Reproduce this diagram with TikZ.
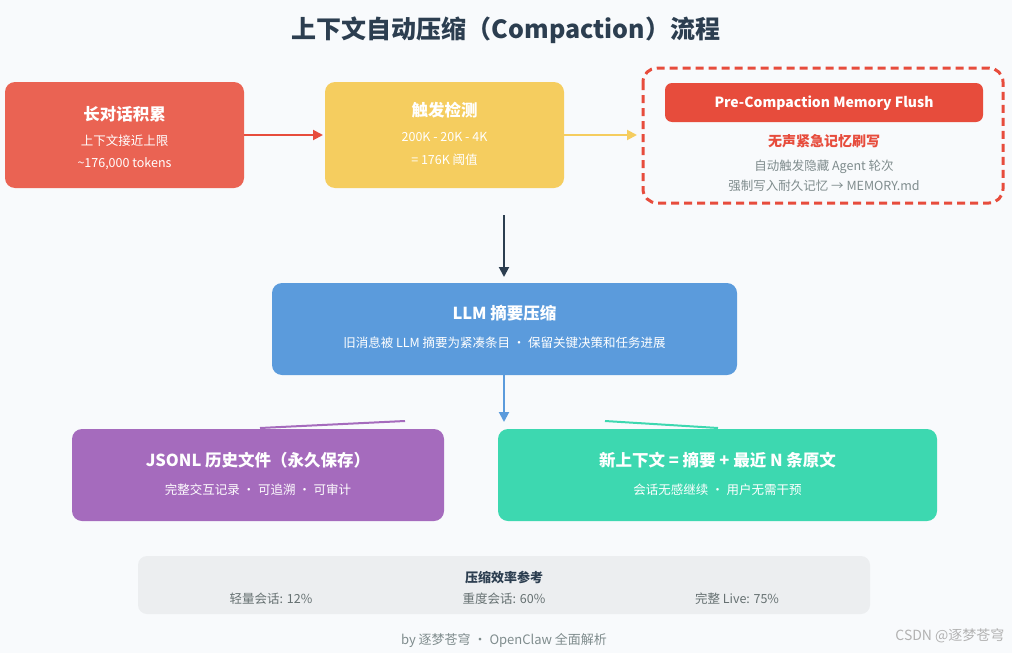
\documentclass[tikz,border=0pt]{standalone}
\usepackage{fontspec}
\setmainfont{Noto Sans CJK SC}
\usetikzlibrary{arrows.meta}
\definecolor{bg}{HTML}{F8FAFC}
\definecolor{cA}{HTML}{EA6353}
\definecolor{cB}{HTML}{F5CD5F}
\definecolor{cR}{HTML}{E74C3C}
\definecolor{cD}{HTML}{5B9BDC}
\definecolor{cE}{HTML}{A56BBD}
\definecolor{cF}{HTML}{3DD8B0}
\definecolor{cG}{HTML}{ECEEF0}
\definecolor{dark}{HTML}{2C3E50}
\definecolor{gtxt}{HTML}{7F8C8D}
\begin{document}
\begin{tikzpicture}[x=1pt,y=-1pt,
  box/.style={rounded corners=10pt,draw=none},
  ttl/.style={font=\bfseries\fontsize{16.5}{19}\selectfont,text=white},
  sub/.style={font=\fontsize{12.5}{15}\selectfont,text=white},
  arr/.style={line width=2pt,-{Triangle[length=10pt,width=10pt]}}]
\fill[bg] (0,0) rectangle (1012,653);
\useasboundingbox (0,0) rectangle (1012,653);
\node[font=\bfseries\fontsize{25}{29}\selectfont,text=dark] (title) at (506,30) {上下文自动压缩（Compaction）流程};
% row 1
\fill[box,cA] (5,82) rectangle (244,188);
\node[ttl] (a1) at (124.5,114) {长对话积累};
\node[sub] (a2) at (124.5,141) {上下文接近上限};
\node[sub] (a3) at (124.5,164) {\textasciitilde 176,000 tokens};
\coordinate (aR) at (244,135);
\fill[box,cB] (325,82) rectangle (564,188);
\node[ttl] (b1) at (444.5,110) {触发检测};
\node[sub] (b2) at (444.5,137) {200K - 20K - 4K};
\node[sub] (b3) at (444.5,160) {= 176K 阈值};
\coordinate (bL) at (323,135);
\coordinate (bR) at (564,135);
\draw[cR,line width=3pt,dash pattern=on 8pt off 5pt,rounded corners=14pt] (643,68) rectangle (1003,203);
\fill[cR,rounded corners=7pt] (665,83) rectangle (983,122);
\node[font=\bfseries\fontsize{14}{16}\selectfont,text=white] (c1) at (824,103) {Pre-Compaction Memory Flush};
\node[font=\bfseries\fontsize{14}{16}\selectfont,text=cR] (c2) at (824,141) {无声紧急记忆刷写};
\node[font=\fontsize{12.5}{15}\selectfont,text=gtxt] (c3) at (824,167) {自动触发隐藏 Agent 轮次};
\node[font=\fontsize{12.5}{15}\selectfont,text=gtxt] (c4) at (824,186) {强制写入耐久记忆 → MEMORY.md};
\coordinate (cL) at (637,135);
\draw[arr,cR] (aR) -- (bL);
\draw[arr,cB] (bR) -- (cL);
% middle
\coordinate (dn1) at (504,215);
\coordinate (dn2) at (504,277);
\draw[arr,dark] (dn1) -- (dn2);
\fill[box,cD] (272,283) rectangle (737,375);
\node[ttl] (d1) at (504.5,313) {LLM 摘要压缩};
\node[sub] (d2) at (504.5,343) {旧消息被 LLM 摘要为紧凑条目 · 保留关键决策和任务进展};
\coordinate (dB) at (504,375);
\coordinate (dT) at (504,422);
\draw[arr,cD] (dB) -- (dT);
\coordinate (p1) at (260,428); \coordinate (p2) at (405,421);
\draw[cE,line width=2pt] (p1) -- (p2);
\coordinate (g1) at (605,421); \coordinate (g2) at (718,428);
\draw[cF,line width=2pt] (g1) -- (g2);
% row 3
\fill[box,cE] (72,429) rectangle (444,521);
\node[ttl] (e1) at (258,460) {JSONL 历史文件（永久保存）};
\node[sub] (e2) at (258,490) {完整交互记录 · 可追溯 · 可审计};
\fill[box,cF] (498,429) rectangle (937,521);
\node[ttl] (f1) at (717.5,460) {新上下文 = 摘要 + 最近 N 条原文};
\node[sub] (f2) at (717.5,490) {会话无感继续 · 用户无需干预};
% stats
\fill[cG,rounded corners=9pt] (138,556) rectangle (870,614);
\node[font=\bfseries\fontsize{13}{15}\selectfont,text=dark] (s0) at (504,577) {压缩效率参考};
\node[font=\fontsize{12.5}{15}\selectfont,text=gtxt!80!black] (s1) at (271,599) {轻量会话: 12\%};
\node[font=\fontsize{12.5}{15}\selectfont,text=gtxt!80!black] (s2) at (504,599) {重度会话: 60\%};
\node[font=\fontsize{12.5}{15}\selectfont,text=gtxt!80!black] (s3) at (737,599) {完整 Live: 75\%};
\node[font=\fontsize{13}{15}\selectfont,text=gtxt] (ft) at (504,640) {by 逐梦苍穹 · OpenClaw 全面解析};
\node[font=\fontsize{14}{16}\selectfont,text=gray!60,anchor=east] (wm) at (1008,636) {CSDN @逐梦苍穹};
\end{tikzpicture}
\end{document}
